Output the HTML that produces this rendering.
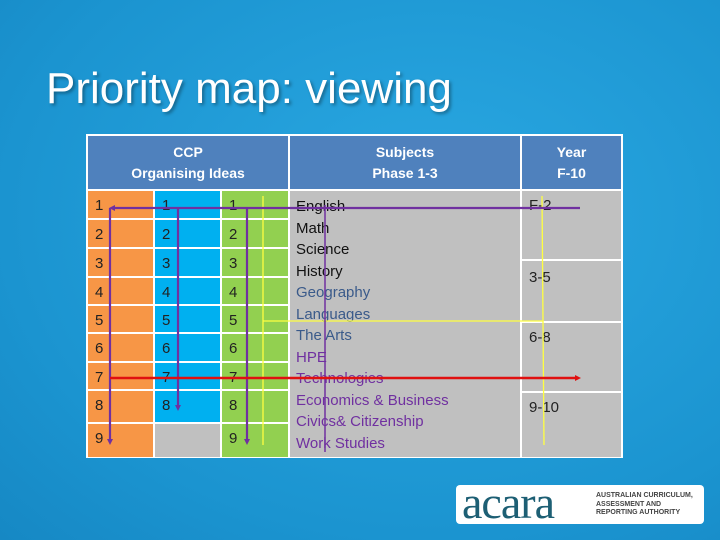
<!DOCTYPE html>
<html><head><meta charset="utf-8"><style>
body{margin:0;width:720px;height:540px;overflow:hidden;background:radial-gradient(ellipse at 60% 40%,#2aa8e2,#1b94d0 70%,#1688c4);font-family:"Liberation Sans",sans-serif;position:relative}
.a{position:absolute;box-sizing:border-box}
.h{background:#4f81bd;color:#fff;font-weight:bold;font-size:14px;text-align:center;line-height:21px;padding-top:6px}
.c{font-size:15px;color:#222;padding-left:7px;line-height:29px}
.o{background:#f79646}.b{background:#00b0f0}.g{background:#92d050}.gr{background:#c0c0c0}
.s{position:absolute;left:296px;font-size:15px;line-height:21.5px}
</style></head><body>
<div class="a" style="left:46px;top:64px;font-size:44px;color:#fff;text-shadow:2px 2px 3px rgba(0,0,0,.35)">Priority map: viewing</div>
<div class="a" style="left:86px;top:134px;width:537px;height:324px;background:#fff"></div>
<div class="a h" style="left:88px;top:136px;width:200px;height:53px">CCP<br>Organising Ideas</div>
<div class="a h" style="left:290px;top:136px;width:230px;height:53px">Subjects<br>Phase 1-3</div>
<div class="a h" style="left:522px;top:136px;width:99px;height:53px">Year<br>F-10</div>
<div id="rows"></div>
<div class="a gr" style="left:290px;top:191px;width:230px;height:266px"></div>
<div class="s" style="top:196px">
<div style="color:#111">English</div><div style="color:#111">Math</div><div style="color:#111">Science</div><div style="color:#111">History</div>
<div style="color:#3a5a8a">Geography</div><div style="color:#3a5a8a">Languages</div><div style="color:#3a5a8a">The Arts</div>
<div style="color:#7030a0">HPE</div><div style="color:#7030a0">Technologies</div><div style="color:#7030a0">Economics &amp; Business</div><div style="color:#7030a0">Civics&amp; Citizenship</div><div style="color:#7030a0">Work Studies</div></div>
<div class="a gr c" style="left:522px;top:191px;width:99px;height:68px;line-height:30px">F-2</div>
<div class="a gr c" style="left:522px;top:261px;width:99px;height:60px;line-height:28px;padding-top:3px">3-5</div>
<div class="a gr c" style="left:522px;top:323px;width:99px;height:68px">6-8</div>
<div class="a gr c" style="left:522px;top:393px;width:99px;height:64px">9-10</div>
<svg class="a" style="left:0;top:0" width="720" height="540">
<defs><marker id="ap" markerUnits="userSpaceOnUse" markerWidth="6" markerHeight="6" refX="3" refY="3" orient="auto"><path d="M0,0L6,3L0,6z" fill="#7030a0"/></marker>
<marker id="ar" markerUnits="userSpaceOnUse" markerWidth="6" markerHeight="6" refX="3" refY="3" orient="auto"><path d="M0,0L6,3L0,6z" fill="#e01010"/></marker></defs>
<g stroke="#ffff40" stroke-width="1.3" fill="none"><line x1="263" y1="196" x2="263" y2="445"/><line x1="263" y1="321" x2="543" y2="321"/><line x1="542" y1="196" x2="544" y2="445"/></g>
<g stroke="#7030a0" stroke-width="2.2" fill="none"><line x1="580" y1="208" x2="112" y2="208" marker-end="url(#ap)"/>
<line x1="110" y1="208" x2="110" y2="442" marker-end="url(#ap)"/><line x1="178" y1="208" x2="178" y2="408" marker-end="url(#ap)"/><line x1="247" y1="208" x2="247" y2="442" marker-end="url(#ap)"/><line x1="325" y1="205" x2="325" y2="452" stroke-width="1.5"/></g>
<line x1="110" y1="378" x2="578" y2="378" stroke="#e01010" stroke-width="2.5" marker-end="url(#ar)"/>
</svg>
<div class="a" style="left:456px;top:485px;width:248px;height:39px;background:#fff;border-radius:4px;overflow:hidden">
<span style="position:absolute;left:6px;top:-9px;font-family:'Liberation Serif',serif;font-size:46px;color:#1d5f74;letter-spacing:-1px">acara</span>
<span style="position:absolute;left:140px;top:7px;font-size:7px;line-height:8.5px;color:#444;font-weight:bold;white-space:nowrap">AUSTRALIAN CURRICULUM,<br>ASSESSMENT AND<br>REPORTING AUTHORITY</span></div>
<script>
const rowTops=[191,220,249,278,306,334,363,391,424];
const h=[28,28,28,27,27,28,27,32,33];
let html='';
for(let i=0;i<9;i++){
 const t=rowTops[i],hh=h[i]-(i<8?1:0);
 html+=`<div class="a o c" style="left:88px;top:${t}px;width:65px;height:${hh}px">${i+1}</div>`;
 html+=i<8?`<div class="a b c" style="left:155px;top:${t}px;width:65px;height:${hh}px">${i+1}</div>`:`<div class="a gr" style="left:155px;top:${t}px;width:65px;height:${hh}px"></div>`;
 html+=`<div class="a g c" style="left:222px;top:${t}px;width:66px;height:${hh}px">${i+1}</div>`;
}
document.getElementById('rows').innerHTML=html;
</script>
</body></html>
